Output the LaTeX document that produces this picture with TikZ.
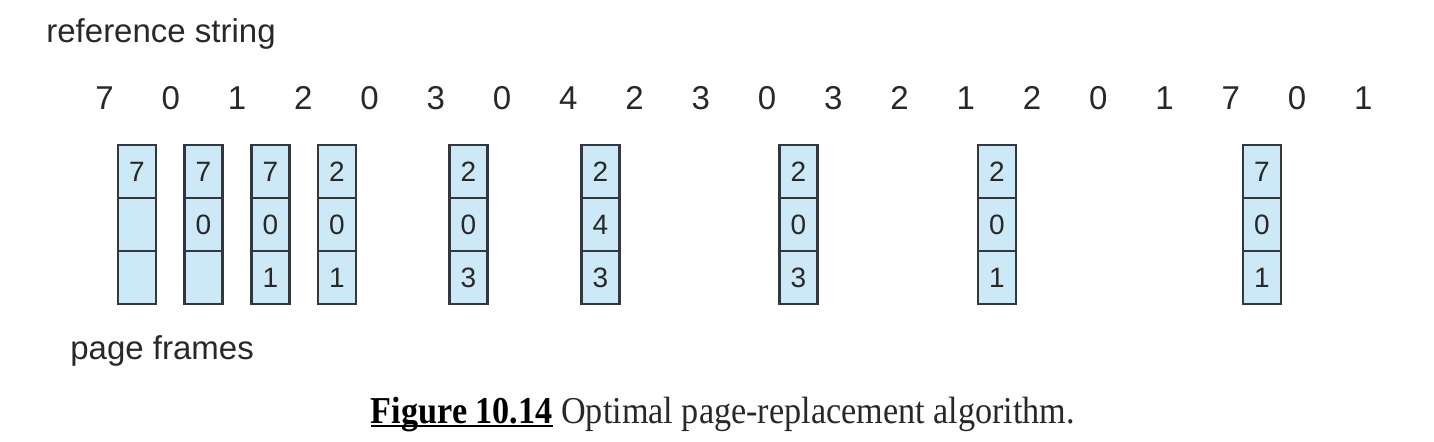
\documentclass[tikz,border=0pt]{standalone}
\usepackage{fontspec}
\setmainfont{Liberation Serif}
\setsansfont{Liberation Sans}
\usetikzlibrary{positioning}
\definecolor{framefill}{RGB}{205,232,246}
\definecolor{frameline}{RGB}{50,56,62}
\definecolor{textgray}{RGB}{40,40,40}
\tikzset{
  cell/.style={draw=frameline, line width=1.2pt, fill=framefill, minimum width=19pt,
    minimum height=26.5pt, inner sep=0pt, outer sep=0pt, text=textgray,
    font=\sffamily\fontsize{14}{14}\selectfont},
  refnum/.style={text=textgray, inner sep=0pt, font=\sffamily\fontsize{16.5}{18}\selectfont},
  label/.style={text=textgray, inner sep=0pt, font=\sffamily\fontsize{16.5}{18}\selectfont},
  caption/.style={text=textgray, inner sep=0pt, xscale=0.9, transform shape,
    font=\fontsize{19}{22}\selectfont}
}
\def\pageframe(#1,#2,#3,#4,#5){
  \node[cell] (#1a) at (#2,270.5) {#3};
  \node[cell, below=0pt of #1a] (#1b) {#4};
  \node[cell, below=0pt of #1b] (#1c) {#5};
}
\def\capline#1{\setbox0\hbox{#1}\rlap{\rule[-1.5pt]{\wd0}{1pt}}\box0}

\begin{document}
\begin{tikzpicture}[x=0.5pt,y=0.5pt]
\useasboundingbox (0,0) rectangle (1434,442);
\node[label, anchor=base west] (refstr) at (46,399) {reference string};
\foreach \v [count=\i from 0] in {7,0,1,2,0,3,0,4,2,3,0,3,2,1,2,0,1,7,0,1}
  \node[refnum] (r\i) at ({104.5+66.25*\i},344) {\v};
\pageframe(fa,137,7,,)
\pageframe(fb,203.5,7,0,)
\pageframe(fc,270.5,7,0,1)
\pageframe(fd,337,2,0,1)
\pageframe(fe,468.5,2,0,3)
\pageframe(ff,600.5,2,4,3)
\pageframe(fg,798.5,2,0,3)
\pageframe(fh,997,2,0,1)
\pageframe(fi,1262,7,0,1)
\node[label, anchor=base west] (pgfr) at (70,82) {page frames};
\node[caption, anchor=base] (cap) at (723,18)
  {\textcolor{black}{\capline{\textbf{Figure 10.14}}} Optimal page-replacement algorithm.};
\end{tikzpicture}
\end{document}
